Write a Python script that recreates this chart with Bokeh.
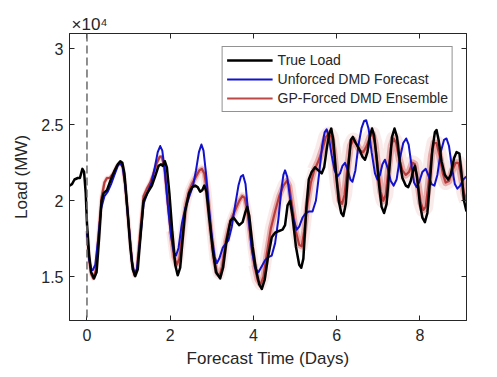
import numpy as np
from bokeh.plotting import figure
from bokeh.models import (Range1d, LinearAxis, FixedTicker, Span, Legend,
                          LegendItem, CustomJSTickFormatter)
from bokeh.embed import file_html
from bokeh.resources import INLINE

# ---------------- data (load in units of 10^4 MW, time in days) ----------------
true_days = [-0.42, -0.36, -0.3, -0.22, -0.17, -0.11, -0.07, -0.03, 0.0, 0.05, 0.1, 0.17, 0.23,
             0.29, 0.35, 0.4, 0.48, 0.56, 0.65, 0.74, 0.8, 0.85, 0.9, 0.97, 1.04, 1.1, 1.16,
             1.22, 1.29, 1.36, 1.45, 1.56, 1.65, 1.72, 1.78, 1.82, 1.87, 1.92, 1.98, 2.05,
             2.12, 2.18, 2.24, 2.3, 2.36, 2.45, 2.53, 2.6, 2.66, 2.72, 2.77, 2.82, 2.87, 2.94,
             3.02, 3.1, 3.2, 3.27, 3.35, 3.45, 3.52, 3.6, 3.66, 3.74, 3.8, 3.85, 3.9, 3.98,
             4.06, 4.14, 4.2, 4.27, 4.35, 4.44, 4.52, 4.6, 4.7, 4.76, 4.82, 4.88, 4.94, 5.02,
             5.1, 5.15, 5.2, 5.27, 5.33, 5.4, 5.48, 5.56, 5.64, 5.7, 5.76, 5.82, 5.87, 5.92,
             5.98, 6.05, 6.11, 6.16, 6.22, 6.28, 6.34, 6.39, 6.46, 6.54, 6.62, 6.68, 6.74,
             6.8, 6.85, 6.9, 6.96, 7.02, 7.08, 7.14, 7.2, 7.27, 7.33, 7.39, 7.45, 7.52, 7.58,
             7.66, 7.72, 7.78, 7.84, 7.88, 7.93, 8.0, 8.06, 8.12, 8.18, 8.24, 8.3, 8.36, 8.4,
             8.45, 8.52, 8.6, 8.68, 8.74, 8.82, 8.88, 8.95, 9.0, 9.06, 9.12]
true_load = [2.10, 2.11, 2.14, 2.15, 2.15, 2.21, 2.19, 2.05, 1.85, 1.65, 1.53, 1.49, 1.53,
             1.75, 2.00, 2.05, 2.07, 2.13, 2.19, 2.24, 2.26, 2.25, 2.18, 1.95, 1.70, 1.55, 1.505,
             1.55, 1.78, 2.00, 2.05, 2.10, 2.17, 2.23, 2.24, 2.23, 2.26, 2.22, 2.05, 1.80,
             1.58, 1.51, 1.56, 1.75, 1.93, 2.05, 2.09, 2.10, 2.09, 2.06, 2.07, 2.10, 2.06, 1.88,
             1.68, 1.53, 1.49, 1.56, 1.73, 1.87, 1.89, 1.86, 1.84, 1.86, 1.92, 1.96, 1.90, 1.70,
             1.55, 1.45, 1.42, 1.48, 1.63, 1.76, 1.79, 1.80, 1.81, 1.84, 1.97, 2.00, 1.90, 1.70,
             1.58, 1.56, 1.62, 1.95, 2.14, 2.19, 2.22, 2.20, 2.18, 2.22, 2.34, 2.44, 2.475, 2.40,
             2.20, 2.00, 1.92, 1.90, 1.98, 2.22, 2.40, 2.42, 2.38, 2.34, 2.29, 2.27, 2.32,
             2.43, 2.475, 2.43, 2.28, 2.10, 1.96, 1.92, 1.98, 2.22, 2.42, 2.475, 2.42, 2.25, 2.15,
             2.10, 2.09, 2.13, 2.20, 2.23, 2.16, 1.98, 1.89, 1.86, 1.92, 2.12, 2.34, 2.45, 2.465,
             2.40, 2.26, 2.17, 2.14, 2.17, 2.28, 2.32, 2.31, 2.18, 2.00, 1.93]

dmd_days = [0.0, 0.05, 0.1, 0.14, 0.2, 0.27, 0.34, 0.42, 0.5, 0.58, 0.66, 0.74, 0.8, 0.86, 0.92,
            1.0, 1.08, 1.14, 1.2, 1.28, 1.36, 1.45, 1.55, 1.63, 1.7, 1.76, 1.81, 1.87, 1.94,
            2.02, 2.09, 2.14, 2.2, 2.28, 2.36, 2.46, 2.55, 2.62, 2.69, 2.75, 2.8, 2.86, 2.93,
            3.0, 3.07, 3.12, 3.18, 3.26, 3.34, 3.4, 3.48, 3.56, 3.64, 3.7, 3.75, 3.81, 3.88,
            3.96, 4.04, 4.12, 4.2, 4.28, 4.36, 4.44, 4.52, 4.6, 4.67, 4.72, 4.76, 4.81, 4.88,
            4.96, 5.04, 5.1, 5.18, 5.26, 5.34, 5.42, 5.5, 5.58, 5.65, 5.71, 5.76, 5.81, 5.88,
            5.95, 6.02, 6.08, 6.14, 6.2, 6.27, 6.33, 6.38, 6.45, 6.52, 6.6, 6.66, 6.71, 6.77,
            6.84, 6.92, 6.98, 7.04, 7.1, 7.16, 7.22, 7.3, 7.37, 7.44, 7.52, 7.6, 7.67, 7.73,
            7.8, 7.86, 7.92, 7.98, 8.06, 8.14, 8.2, 8.28, 8.35, 8.42, 8.5, 8.58, 8.64, 8.7,
            8.77, 8.84, 8.9, 8.97, 9.04, 9.12]
dmd_load = [1.80, 1.62, 1.55, 1.545, 1.58, 1.75, 1.95, 2.03, 2.06, 2.11, 2.17, 2.23, 2.25, 2.22, 2.10,
            1.85, 1.60, 1.52, 1.55, 1.75, 1.98, 2.05, 2.12, 2.22, 2.32, 2.36, 2.33, 2.20, 1.98,
            1.77, 1.66, 1.64, 1.69, 1.85, 1.95, 2.03, 2.10, 2.20, 2.32, 2.37, 2.33, 2.18, 1.96,
            1.77, 1.63, 1.59, 1.62, 1.69, 1.72, 1.74, 1.83, 1.97, 2.10, 2.16, 2.17, 2.11, 1.90,
            1.68, 1.56, 1.53, 1.57, 1.61, 1.63, 1.64, 1.72, 1.88, 2.07, 2.17, 2.20, 2.16, 2.02,
            1.88, 1.81, 1.83, 1.89, 1.92, 1.93, 1.93, 2.00, 2.18, 2.36, 2.45, 2.47, 2.42, 2.30,
            2.20, 2.16, 2.18, 2.23, 2.25, 2.20, 2.14, 2.125, 2.20, 2.36, 2.48, 2.525, 2.53, 2.47,
            2.32, 2.18, 2.14, 2.17, 2.24, 2.27, 2.22, 2.13, 2.10, 2.14, 2.28, 2.38, 2.41, 2.37,
            2.23, 2.12, 2.09, 2.12, 2.19, 2.21, 2.17, 2.11, 2.10, 2.17, 2.32, 2.40, 2.41, 2.36,
            2.22, 2.11, 2.08, 2.10, 2.14, 2.16]

ens_days = [0.0, 0.05, 0.1, 0.15, 0.21, 0.28, 0.35, 0.42, 0.48, 0.55, 0.63, 0.72, 0.8, 0.86, 0.92,
            1.0, 1.08, 1.14, 1.2, 1.28, 1.36, 1.44, 1.52, 1.6, 1.68, 1.75, 1.8, 1.86, 1.93,
            2.01, 2.09, 2.16, 2.22, 2.3, 2.38, 2.46, 2.54, 2.62, 2.7, 2.76, 2.82, 2.89, 2.97,
            3.05, 3.13, 3.19, 3.25, 3.33, 3.42, 3.5, 3.58, 3.66, 3.73, 3.79, 3.86, 3.94,
            4.02, 4.1, 4.17, 4.24, 4.32, 4.42, 4.52, 4.62, 4.72, 4.8, 4.86, 4.94, 5.02, 5.1,
            5.16, 5.22, 5.3, 5.38, 5.46, 5.56, 5.66, 5.74, 5.81, 5.87, 5.94, 6.01, 6.08, 6.13,
            6.19, 6.26, 6.33, 6.4, 6.48, 6.56, 6.64, 6.72, 6.8, 6.86, 6.92, 6.99, 7.06, 7.12,
            7.18, 7.25, 7.31, 7.37, 7.43, 7.5, 7.58, 7.66, 7.74, 7.82, 7.88, 7.95, 8.02, 8.08,
            8.14, 8.21, 8.28, 8.34, 8.4, 8.47, 8.55, 8.62, 8.7, 8.78, 8.86, 8.93, 9.0, 9.06, 9.12]
ens_load = [1.80, 1.62, 1.52, 1.49, 1.54, 1.78, 2.02, 2.12, 2.15, 2.15, 2.18, 2.23, 2.25, 2.22, 2.10,
            1.85, 1.60, 1.51, 1.55, 1.80, 2.03, 2.08, 2.12, 2.18, 2.25, 2.29, 2.29, 2.22, 2.02,
            1.80, 1.63, 1.58, 1.62, 1.80, 1.98, 2.07, 2.12, 2.16, 2.20, 2.21, 2.18, 2.05, 1.82,
            1.62, 1.52, 1.51, 1.57, 1.73, 1.84, 1.90, 1.95, 2.00, 2.03, 2.02, 1.92, 1.74,
            1.58, 1.48, 1.45, 1.50, 1.65, 1.82, 1.93, 2.03, 2.10, 2.13, 2.10, 1.95, 1.80, 1.71,
            1.70, 1.80, 1.98, 2.12, 2.20, 2.26, 2.34, 2.42, 2.44, 2.42, 2.30, 2.12, 2.00, 1.98,
            2.04, 2.22, 2.36, 2.40, 2.37, 2.33, 2.32, 2.36, 2.42, 2.44, 2.38, 2.22, 2.06, 2.00,
            2.04, 2.22, 2.36, 2.41, 2.38, 2.28, 2.20, 2.17, 2.19, 2.25, 2.24, 2.12, 1.99, 1.94,
            1.96, 2.12, 2.30, 2.38, 2.38, 2.30, 2.18, 2.12, 2.13, 2.20, 2.25, 2.25, 2.15, 2.05, 2.00]

x_ticks = [0, 2, 4, 6, 8]
y_ticks = [1.5, 2, 2.5, 3]
legend_labels = ["True Load", "Unforced DMD Forecast", "GP-Forced DMD Ensemble"]

# ---------------- figure ----------------
TXT = "#262626"
FONT = "Liberation Sans"

p = figure(width=497, height=377, output_backend="svg", toolbar_location=None,
           x_range=Range1d(-0.42, 9.12), y_range=Range1d(1.213, 3.1),
           min_border_left=69, min_border_right=31, min_border_top=33, min_border_bottom=57,
           x_axis_label="Forecast Time (Days)", y_axis_label="Load (MW)",
           title="×10⁴")
p.background_fill_color = "white"
p.border_fill_color = "white"
p.outline_line_color = TXT
p.grid.visible = False

p.title.align = "left"
p.title.offset = 2
p.title.standoff = 0
p.title.text_font = FONT
p.title.text_font_size = "17px"
p.title.text_font_style = "normal"
p.title.text_color = TXT

def style_axis(ax, ticks, show_labels):
    ax.ticker = FixedTicker(ticks=ticks)
    ax.major_tick_in = 5
    ax.major_tick_out = 0
    ax.minor_tick_in = 0
    ax.minor_tick_out = 0
    ax.axis_line_color = TXT
    ax.major_tick_line_color = TXT
    ax.major_label_text_color = TXT
    ax.major_label_text_font = FONT
    ax.major_label_text_font_size = "16px" if show_labels else "0px"
    ax.major_label_standoff = 8 if show_labels else 0
    ax.axis_label_text_font = FONT
    ax.axis_label_text_font_size = "17px"
    ax.axis_label_text_font_style = "normal"
    ax.axis_label_text_color = TXT
    if show_labels:
        ax.formatter = CustomJSTickFormatter(code="return tick.toString();")
    else:
        ax.formatter = CustomJSTickFormatter(code="return '';")

style_axis(p.xaxis[0], x_ticks, True)
style_axis(p.yaxis[0], y_ticks, True)
p.xaxis[0].axis_label_standoff = 5
p.yaxis[0].major_label_standoff = 6
p.yaxis[0].axis_label_standoff = 7

top_ax = LinearAxis()
style_axis(top_ax, x_ticks, False)
p.add_layout(top_ax, "above")
right_ax = LinearAxis()
style_axis(right_ax, y_ticks, False)
p.add_layout(right_ax, "right")

# dashed forecast-start line
p.add_layout(Span(location=0, dimension="height", line_color="#6a6a6a",
                  line_dash="8 4", line_width=1.5))

# ensemble (translucent red haze around the ensemble trace, widening with time)
ed = np.array(ens_days)
el = np.array(ens_load)
segments = [((ed >= 0.0) & (ed <= 2.01), 3, 5),
            ((ed >= 2.01) & (ed <= 4.02), 5, 9),
            ((ed >= 4.02) & (ed <= 5.5), 6, 12),
            ((ed >= 5.46), 7, 15)]
for mask, w_in, w_out in segments:
    p.line(ed[mask], el[mask], line_color="#d85a5a", line_alpha=0.12, line_width=w_out,
           line_join="round")
    p.line(ed[mask], el[mask], line_color="#c03434", line_alpha=0.34, line_width=w_in,
           line_join="round")
r_ens = p.line(ens_days, ens_load, line_color="#b02828", line_alpha=0.85, line_width=2.2,
               line_join="round")

r_dmd = p.line(dmd_days, dmd_load, line_color="#1212cc", line_width=2, line_join="round")
r_true = p.line(true_days, true_load, line_color="black", line_width=2.5, line_join="round")

legend = Legend(items=[LegendItem(label=legend_labels[0], renderers=[r_true]),
                       LegendItem(label=legend_labels[1], renderers=[r_dmd]),
                       LegendItem(label=legend_labels[2], renderers=[r_ens])],
                location="top_right", margin=13, padding=4, spacing=1,
                glyph_width=46, glyph_height=18, label_height=18, label_standoff=5,
                label_text_font=FONT, label_text_font_size="14px", label_text_color=TXT,
                border_line_color=TXT, border_line_width=1,
                background_fill_color="white", background_fill_alpha=1.0)
p.add_layout(legend)

open("out.html", "w").write(file_html(p, INLINE))
